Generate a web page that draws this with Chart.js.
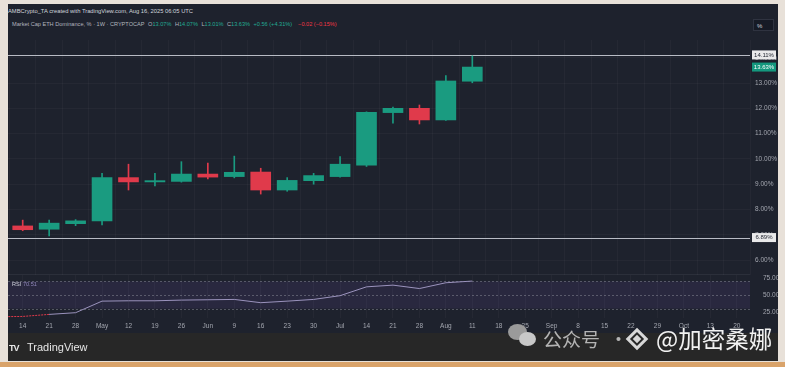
<!DOCTYPE html>
<html>
<head>
<meta charset="utf-8">
<script src="https://cdn.jsdelivr.net/npm/chart.js@4.4.1/dist/chart.umd.min.js"></script>
<style>
  body { margin: 0; width: 785px; height: 367px; background: #e8e1d9; position: relative; overflow: hidden; font-family: "Liberation Sans", Arial, sans-serif; }
  .abs { position: absolute; white-space: nowrap; }
  #panel { left: 8px; top: 4px; width: 770px; height: 357px; background: #1e222d; }
  #strip { left: 0; top: 362px; width: 785px; height: 5px; background: #d9a36a; }
  #band { left: 8px; top: 333px; width: 770px; height: 28px; background: #272727; }
  #sep { left: 8px; top: 274px; width: 742px; height: 1px; background: #2b2f3a; }
  #mainWrap { left: 8px; top: 40px; width: 770px; height: 235px; }
  #rsiWrap { left: 8px; top: 275px; width: 770px; height: 58px; }
  .t6 { font-size: 5.6px; line-height: 8px; }
  .title { font-size: 5.8px; line-height: 8px; }
  .grey { color: #b2b5be; }
  .up { color: #22ab94; }
  .down { color: #f23645; }
  .gap { margin-left: 3.5px; }
  #pctBox { left: 753px; top: 19px; width: 21px; height: 12px; background: #161a25; border: 1px solid #2f3340; color: #d1d4dc; font-size: 6px; line-height: 12px; padding-left: 3px; box-sizing: border-box; }
  .cjk { font-family: "Noto Sans CJK SC", sans-serif; }
</style>
</head>
<body>
<div id="panel" class="abs"></div>
<div id="band" class="abs"></div>
<div id="strip" class="abs"></div>
<div id="sep" class="abs"></div>

<div class="abs title" style="left:8px;top:7px;color:#d1d4dc">AMBCrypto_TA created with TradingView.com, Aug 16, 2025 06:05 UTC</div>
<div class="abs t6" style="left:12px;top:20px"><span class="grey">Market Cap ETH Dominance, % · 1W · CRYPTOCAP</span><span class="gap grey">O</span><span class="up">13.07%</span><span class="gap grey">H</span><span class="up">14.07%</span><span class="gap grey">L</span><span class="up">13.01%</span><span class="gap grey">C</span><span class="up">13.63%</span><span class="gap up">+0.56 (+4.31%)</span><span class="down" style="margin-left:6px">−0.02 (−0.15%)</span></div>
<div id="pctBox" class="abs">%</div>

<div id="mainWrap" class="abs"><canvas id="main" width="770" height="235"></canvas></div>
<div id="rsiWrap" class="abs"><canvas id="rsi" width="770" height="58"></canvas></div>

<div class="abs t6" style="left:12px;top:280px"><span style="color:#d1d4dc">RSI</span> <span style="color:#8f86b8">70.51</span></div>

<div class="abs" style="left:9px;top:343px;color:#e6e6e6;font-size:9px;font-weight:900;letter-spacing:-1px">TV</div>
<div class="abs" style="left:27px;top:341px;color:#e6e6e6;font-size:11px">TradingView</div>

<!-- watermark -->
<div class="abs" style="left:508px;top:324px;width:19px;height:16px;border-radius:50%;background:#9a9a9a"></div>
<div class="abs" style="left:519px;top:332px;width:17px;height:14px;border-radius:50%;background:#c8c8c8"></div>
<div class="abs cjk" style="left:543px;top:326px;color:#b4b4b4;font-size:19px;line-height:26px">公众号</div>
<div class="abs cjk" style="left:609px;top:326px;color:#b4b4b4;font-size:19px;line-height:26px">·</div>
<div class="abs" style="left:629px;top:331px;width:16px;height:16px;border:3px solid #d8d8d8;transform:rotate(45deg);box-sizing:border-box"></div>
<div class="abs" style="left:634px;top:336px;width:6px;height:6px;background:#d8d8d8;transform:rotate(45deg)"></div>
<div class="abs cjk" style="left:656px;top:324px;color:#f2f2f2;font-size:23.5px;line-height:28px">@加密桑娜</div>

<script>
// weekly candles, Apr 14 .. Aug 11 2025
const tickLabels = ["14", "21", "28", "May", "12", "19", "26", "Jun", "9", "16", "23", "30", "Jul", "14",
  "21", "28", "Aug", "11", "18", "25", "Sep", "8", "15", "22", "29", "Oct", "13", "20"]
const opens  = [7.35, 7.22, 7.44, 7.55, 9.26, 9.09, 9.11, 9.40, 9.30, 9.48, 8.77, 9.14, 9.30, 9.75, 11.83, 12.00, 11.54, 13.07]
const highs  = [7.58, 7.58, 7.60, 9.43, 9.79, 9.43, 9.89, 9.83, 10.11, 9.63, 9.26, 9.43, 10.09, 11.86, 12.05, 12.13, 13.29, 14.07]
const lows   = [7.16, 6.95, 7.36, 7.39, 8.77, 8.93, 9.08, 9.21, 9.25, 8.61, 8.72, 9.00, 9.28, 9.70, 11.41, 11.38, 11.52, 13.01]
const closes = [7.20, 7.46, 7.55, 9.26, 9.09, 9.14, 9.40, 9.28, 9.47, 8.77, 9.15, 9.34, 9.79, 11.84, 12.00, 11.54, 13.08, 13.63]
// RSI starts one week earlier (Apr 7)
const rsiValues = [18, 18.5, 21.5, 24, 41, 41.5, 41.5, 42.5, 43, 43.5, 38.7, 41, 43.5, 49, 62, 64.5, 59.5, 68, 70.51]
const levels = [14.11, 6.89]
const priceTicks = [6, 7, 8, 9, 10, 11, 12, 13, 14]
const rsiTicks = [25, 50, 75]
const rsiBand = [30, 70]

const UP = "#1a9b80"
const DOWN = "#e03a4b"
const xMin = -0.556
const xMax = 27.5
const tickFont = { family: "Liberation Sans", size: 6.5 }

const candleColors = opens.map((o, i) => closes[i] >= o ? UP : DOWN)

// right axis: fixed width, no extra top/bottom padding from labels
const fitRightAxis = s => {
  s.width = 28
  s.paddingTop = 0
  s.paddingBottom = 0
}

const levelPlugin = {
  id: "levelPlugin",
  beforeDatasetsDraw(chart) {
    const { ctx, chartArea: a, scales: { y } } = chart
    ctx.save()
    ctx.strokeStyle = "#b8bbc4"
    ctx.lineWidth = 1
    levels.forEach(v => {
      const py = Math.round(y.getPixelForValue(v)) + 0.5
      ctx.beginPath()
      ctx.moveTo(a.left, py)
      ctx.lineTo(a.right, py)
      ctx.stroke()
    })
    ctx.restore()
  },
  afterDraw(chart) {
    const { ctx, chartArea: a, scales: { y } } = chart
    const tag = (v, bg, fg) => {
      const py = y.getPixelForValue(v)
      ctx.fillStyle = bg
      ctx.fillRect(a.right + 2, py - 4.5, 24, 9)
      ctx.fillStyle = fg
      ctx.font = "6px 'Liberation Sans'"
      ctx.textAlign = "center"
      ctx.textBaseline = "middle"
      ctx.fillText(v.toFixed(2) + "%", a.right + 14, py)
    }
    ctx.save()
    levels.forEach(v => tag(v, "#e9e9ea", "#1e222d"))
    tag(closes[closes.length - 1], "#14987e", "#ffffff")
    ctx.restore()
  }
}

new Chart(document.getElementById("main"), {
  type: "bar",
  data: {
    datasets: [
      {
        label: "body",
        data: opens.map((o, i) => ({ x: i, y: [o, closes[i]] })),
        backgroundColor: candleColors,
        barThickness: 20,
        grouped: false,
        order: 1
      },
      {
        label: "wick",
        data: lows.map((l, i) => ({ x: i, y: [l, highs[i]] })),
        backgroundColor: candleColors,
        barThickness: 1,
        grouped: false,
        order: 2
      }
    ]
  },
  options: {
    responsive: false,
    animation: false,
    layout: { padding: 0 },
    plugins: { legend: { display: false }, tooltip: { enabled: false } },
    scales: {
      x: {
        type: "linear",
        min: xMin,
        max: xMax,
        offset: false,
        afterBuildTicks: s => { s.ticks = tickLabels.map((_, i) => ({ value: i })) },
        afterFit: s => { s.height = 0 },
        ticks: { display: false },
        grid: { color: "rgba(255,255,255,0.03)", drawTicks: false },
        border: { display: false }
      },
      y: {
        position: "right",
        min: 5.41,
        max: 14.70,
        afterBuildTicks: s => { s.ticks = priceTicks.map(v => ({ value: v })) },
        afterFit: fitRightAxis,
        ticks: {
          color: "#a3a6af",
          font: tickFont,
          padding: 5,
          callback: v => v.toFixed(2) + "%"
        },
        grid: { color: "rgba(255,255,255,0.03)", drawTicks: false },
        border: { display: false }
      }
    }
  },
  plugins: [levelPlugin]
})

const rsiPlugin = {
  id: "rsiPlugin",
  beforeDatasetsDraw(chart) {
    const { ctx, chartArea: a, scales: { y } } = chart
    const top = y.getPixelForValue(rsiBand[1])
    const bottom = y.getPixelForValue(rsiBand[0])
    ctx.save()
    ctx.fillStyle = "rgba(126,87,194,0.12)"
    ctx.fillRect(a.left, top, a.right - a.left, bottom - top)
    ctx.strokeStyle = "rgba(150,153,165,0.45)"
    ctx.setLineDash([2, 2])
    ctx.lineWidth = 1
    ;[rsiBand[1], 50, rsiBand[0]].forEach(v => {
      const py = Math.round(y.getPixelForValue(v)) + 0.5
      ctx.beginPath()
      ctx.moveTo(a.left, py)
      ctx.lineTo(a.right, py)
      ctx.stroke()
    })
    ctx.restore()
  }
}

new Chart(document.getElementById("rsi"), {
  type: "line",
  data: {
    datasets: [{
      label: "RSI",
      data: rsiValues.map((v, i) => ({ x: i - 1, y: v })),
      borderColor: "#9b93bd",
      borderWidth: 1,
      pointRadius: 0,
      tension: 0,
      segment: {
        borderColor: c => c.p0.parsed.y < 20 ? "#e03a4b" : undefined,
        borderDash: c => c.p0.parsed.y < 20 ? [2, 1] : undefined
      }
    }]
  },
  options: {
    responsive: false,
    animation: false,
    layout: { padding: 0, autoPadding: false },
    plugins: { legend: { display: false }, tooltip: { enabled: false } },
    scales: {
      x: {
        type: "linear",
        min: xMin,
        max: xMax,
        offset: false,
        afterBuildTicks: s => { s.ticks = tickLabels.map((_, i) => ({ value: i })) },
        afterFit: s => { s.height = 15 },
        ticks: {
          color: "#a3a6af",
          font: tickFont,
          padding: 4,
          autoSkip: false,
          maxRotation: 0,
          callback: v => tickLabels[v] ?? ""
        },
        grid: { color: "rgba(255,255,255,0.03)", drawTicks: false },
        border: { display: false }
      },
      y: {
        position: "right",
        min: 16.2,
        max: 79.4,
        afterBuildTicks: s => { s.ticks = rsiTicks.map(v => ({ value: v })) },
        afterFit: fitRightAxis,
        ticks: {
          color: "#a3a6af",
          font: tickFont,
          padding: 5,
          callback: v => v.toFixed(2)
        },
        grid: { display: false },
        border: { display: false }
      }
    }
  },
  plugins: [rsiPlugin]
})
</script>
</body>
</html>
